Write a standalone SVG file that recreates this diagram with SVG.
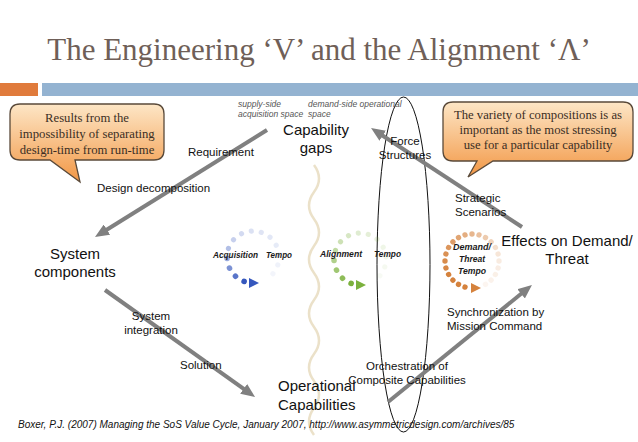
<svg xmlns="http://www.w3.org/2000/svg" width="638" height="442" viewBox="0 0 638 442">
<style>
.sans{font-family:"Liberation Sans",Arial,sans-serif;fill:#111}
.lbl{font-size:11.5px}
.big{font-size:15px}
.serif{font-family:"Liberation Serif","Times New Roman",serif}
.call{font-size:12.7px;fill:#3a2e24;text-anchor:middle}
.sm{font-size:8.5px;font-style:italic;fill:#555}
.tempo{font-family:"Liberation Sans",Arial,sans-serif;font-size:9.5px;font-weight:bold;font-style:italic;fill:#1a1a1a}
.mid{text-anchor:middle}
.conn{stroke:#808080;stroke-width:4;fill:none}
.bubble{fill:url(#og);stroke:#5a4a3a;stroke-width:1.3}
</style>
<defs>
<linearGradient id="og" x1="0" y1="0" x2="0" y2="1">
<stop offset="0" stop-color="#fde6c6"/>
<stop offset="1" stop-color="#f29745"/>
</linearGradient>
<marker id="ah" viewBox="0 0 14 12" refX="4" refY="6" markerWidth="14" markerHeight="12" markerUnits="userSpaceOnUse" orient="auto">
<path d="M0,0 L14,6 L0,12 z" fill="#808080"/>
</marker>
</defs>
<rect width="638" height="442" fill="#fff"/>

<g id="title">
<text x="319" y="60" class="serif mid" font-size="31" fill="#6f5f58">The Engineering ‘V’ and the Alignment ‘Λ’</text>
</g>
<g id="header-bars">
<rect x="0" y="83" width="38" height="13" fill="#e07b3c"/>
<rect x="42" y="83" width="596" height="13" fill="#94b3d1"/>
</g>

<g id="wavy-divider">
<path d="M314,165 q10,13.5 0,27 t0,27 t0,27 t0,27 t0,27 t0,27 t0,27 t0,27 t0,27 t0,27" fill="none" stroke="#ebe1c9" stroke-width="2.5"/>
</g>

<g id="force-ellipse">
<ellipse cx="403.5" cy="264.5" rx="26.5" ry="167.5" fill="none" stroke="#111" stroke-width="1"/>
</g>

<g id="connectors">
<line class="conn" x1="267" y1="130" x2="103.5" y2="231.7" marker-end="url(#ah)"/>
<line class="conn" x1="105" y1="290" x2="246.9" y2="391.2" marker-end="url(#ah)"/>
<line class="conn" x1="388" y1="402" x2="524.2" y2="291.3" marker-end="url(#ah)"/>
<line class="conn" x1="522" y1="227" x2="379.4" y2="133.5" marker-end="url(#ah)"/>
</g>

<g id="callout-left">
<path class="bubble" d="M20,104 H154 Q164,104 164,114 V150 Q164,160 154,160 H75 L80,182 L50,160 H20 Q10,160 10,150 V114 Q10,104 20,104 Z"/>
<text class="serif call" x="87" y="122">Results from the</text>
<text class="serif call" x="87" y="138">impossibility of separating</text>
<text class="serif call" x="87" y="154">design-time from run-time</text>
</g>

<g id="callout-right">
<path class="bubble" d="M453,102 H623 Q633,102 633,112 V151 Q633,161 623,161 H493 L468,177 L477,161 H453 Q443,161 443,151 V112 Q443,102 453,102 Z"/>
<text class="serif call" x="538" y="119" font-size="13">The variety of compositions is as</text>
<text class="serif call" x="538" y="134" font-size="13">important as the most stressing</text>
<text class="serif call" x="538" y="149" font-size="13">use for a particular capability</text>
</g>

<g id="space-labels">
<text class="sans sm" x="238" y="107">supply-side</text>
<text class="sans sm" x="238" y="117">acquisition space</text>
<text class="sans sm" x="308" y="107">demand-side operational</text>
<text class="sans sm" x="308" y="117">space</text>
</g>

<g id="capability-gaps">
<text class="sans big mid" x="316" y="135">Capability</text>
<text class="sans big mid" x="316" y="153">gaps</text>
</g>

<g id="system-components">
<text class="sans big mid" x="75" y="259">System</text>
<text class="sans big mid" x="75" y="277">components</text>
</g>

<g id="operational-capabilities">
<text class="sans big" x="278" y="391">Operational</text>
<text class="sans big" x="278" y="410">Capabilities</text>
</g>

<g id="effects">
<text class="sans big mid" x="567" y="246">Effects on Demand/</text>
<text class="sans big mid" x="567" y="264">Threat</text>
</g>

<g id="edge-labels">
<text class="sans lbl" x="188" y="156">Requirement</text>
<text class="sans lbl" x="97" y="192">Design decomposition</text>
<text class="sans lbl mid" x="151" y="320">System</text>
<text class="sans lbl mid" x="151" y="334">integration</text>
<text class="sans lbl" x="180" y="369">Solution</text>
<text class="sans lbl mid" x="405" y="145">Force</text>
<text class="sans lbl mid" x="405" y="159">Structures</text>
<text class="sans lbl" x="455" y="202">Strategic</text>
<text class="sans lbl" x="455" y="216">Scenarios</text>
<text class="sans lbl" x="447" y="316">Synchronization by</text>
<text class="sans lbl" x="447" y="330">Mission Command</text>
<text class="sans lbl mid" x="407" y="370">Orchestration of</text>
<text class="sans lbl mid" x="407" y="384">Composite Capabilities</text>
</g>

<g id="acquisition-tempo">
<g transform="translate(253,257)" fill="#3557bd">
<circle cx="26" cy="0" r="2.6" transform="rotate(40)" opacity=".06"/>
<circle cx="26" cy="0" r="2.6" transform="rotate(17.7)" opacity=".08"/>
<circle cx="26" cy="0" r="2.6" transform="rotate(-4.6)" opacity=".1"/>
<circle cx="26" cy="0" r="2.6" transform="rotate(-26.9)" opacity=".12"/>
<circle cx="26" cy="0" r="2.6" transform="rotate(-49.2)" opacity=".14"/>
<circle cx="26" cy="0" r="2.6" transform="rotate(-71.5)" opacity=".16"/>
<circle cx="26" cy="0" r="2.6" transform="rotate(-93.8)" opacity=".18"/>
<circle cx="26" cy="0" r="2.6" transform="rotate(-116.2)" opacity=".22"/>
<circle cx="26" cy="0" r="2.6" transform="rotate(-138.5)" opacity=".28"/>
<circle cx="26" cy="0" r="2.6" transform="rotate(-160.8)" opacity=".38"/>
<circle cx="26" cy="0" r="2.8" transform="rotate(-183.1)" opacity=".5"/>
<circle cx="26" cy="0" r="2.8" transform="rotate(-205.4)" opacity=".65"/>
<circle cx="26" cy="0" r="2.8" transform="rotate(-227.7)" opacity=".82"/>
<circle cx="26" cy="0" r="2.8" transform="rotate(-250)" opacity="1"/>
<path d="M-4,21 L6,26 L-4,31 z"/>
</g>
<text class="tempo" x="213" y="258" textLength="45" lengthAdjust="spacingAndGlyphs">Acquisition</text>
<text class="tempo" x="266" y="258" textLength="26" lengthAdjust="spacingAndGlyphs">Tempo</text>
</g>

<g id="alignment-tempo">
<g transform="translate(360,259)" fill="#7bb13d">
<circle cx="26" cy="0" r="2.6" transform="rotate(40)" opacity=".06"/>
<circle cx="26" cy="0" r="2.6" transform="rotate(17.7)" opacity=".08"/>
<circle cx="26" cy="0" r="2.6" transform="rotate(-4.6)" opacity=".1"/>
<circle cx="26" cy="0" r="2.6" transform="rotate(-26.9)" opacity=".12"/>
<circle cx="26" cy="0" r="2.6" transform="rotate(-49.2)" opacity=".16"/>
<circle cx="26" cy="0" r="2.6" transform="rotate(-71.5)" opacity=".2"/>
<circle cx="26" cy="0" r="2.6" transform="rotate(-93.8)" opacity=".24"/>
<circle cx="26" cy="0" r="2.6" transform="rotate(-116.2)" opacity=".3"/>
<circle cx="26" cy="0" r="2.6" transform="rotate(-138.5)" opacity=".38"/>
<circle cx="26" cy="0" r="2.6" transform="rotate(-160.8)" opacity=".48"/>
<circle cx="26" cy="0" r="2.8" transform="rotate(-183.1)" opacity=".6"/>
<circle cx="26" cy="0" r="2.8" transform="rotate(-205.4)" opacity=".72"/>
<circle cx="26" cy="0" r="2.8" transform="rotate(-227.7)" opacity=".86"/>
<circle cx="26" cy="0" r="2.8" transform="rotate(-250)" opacity="1"/>
<path d="M-4,21 L6,26 L-4,31 z"/>
</g>
<text class="tempo" x="320" y="257" textLength="42" lengthAdjust="spacingAndGlyphs">Alignment</text>
<text class="tempo" x="374" y="257" textLength="27" lengthAdjust="spacingAndGlyphs">Tempo</text>
</g>

<g id="demand-threat-tempo">
<g transform="translate(472,261)" fill="#d5823d">
<circle cx="27" cy="0" r="2.7" transform="rotate(60)" opacity=".08"/>
<circle cx="27" cy="0" r="2.7" transform="rotate(45)" opacity=".1"/>
<circle cx="27" cy="0" r="2.7" transform="rotate(30)" opacity=".12"/>
<circle cx="27" cy="0" r="2.7" transform="rotate(15)" opacity=".14"/>
<circle cx="27" cy="0" r="2.7" transform="rotate(0)" opacity=".16"/>
<circle cx="27" cy="0" r="2.7" transform="rotate(-15)" opacity=".2"/>
<circle cx="27" cy="0" r="2.7" transform="rotate(-30)" opacity=".26"/>
<circle cx="27" cy="0" r="2.7" transform="rotate(-45)" opacity=".34"/>
<circle cx="27" cy="0" r="2.7" transform="rotate(-60)" opacity=".42"/>
<circle cx="27" cy="0" r="2.7" transform="rotate(-75)" opacity=".5"/>
<circle cx="27" cy="0" r="2.7" transform="rotate(-90)" opacity=".58"/>
<circle cx="27" cy="0" r="2.7" transform="rotate(-105)" opacity=".65"/>
<circle cx="27" cy="0" r="2.7" transform="rotate(-120)" opacity=".72"/>
<circle cx="27" cy="0" r="2.7" transform="rotate(-135)" opacity=".78"/>
<circle cx="27" cy="0" r="2.7" transform="rotate(-150)" opacity=".84"/>
<circle cx="27" cy="0" r="2.7" transform="rotate(-165)" opacity=".88"/>
<circle cx="27" cy="0" r="2.7" transform="rotate(-180)" opacity=".92"/>
<circle cx="27" cy="0" r="2.7" transform="rotate(-195)" opacity=".95"/>
<circle cx="27" cy="0" r="2.7" transform="rotate(-210)" opacity="1"/>
<circle cx="27" cy="0" r="2.7" transform="rotate(-225)" opacity="1"/>
<circle cx="27" cy="0" r="2.7" transform="rotate(-240)" opacity="1"/>
<circle cx="27" cy="0" r="2.7" transform="rotate(-255)" opacity="1"/>
<path d="M-1,22 L9,27 L-1,32 z"/>
</g>
<text class="tempo mid" x="472" y="250" textLength="38" lengthAdjust="spacingAndGlyphs">Demand/</text>
<text class="tempo mid" x="472" y="262" textLength="26" lengthAdjust="spacingAndGlyphs">Threat</text>
<text class="tempo mid" x="472" y="274" textLength="28" lengthAdjust="spacingAndGlyphs">Tempo</text>
</g>

<g id="citation">
<text class="sans" x="18" y="428" font-size="10" font-style="italic" fill="#222">Boxer, P.J. (2007) Managing the SoS Value Cycle, January 2007, http://www.asymmetricdesign.com/archives/85</text>
</g>
</svg>
